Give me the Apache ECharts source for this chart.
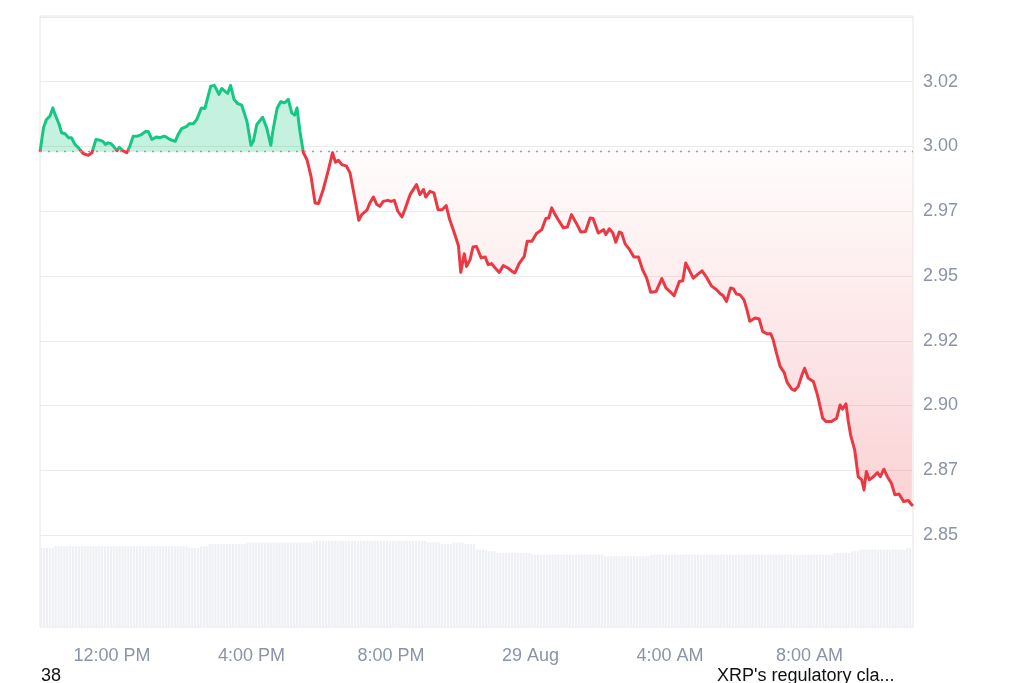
<!DOCTYPE html>
<html>
<head>
<meta charset="utf-8">
<title>XRP price 24h</title>
<script src="https://cdn.jsdelivr.net/npm/echarts@6/dist/echarts.min.js"></script>
<style>
  html, body { margin: 0; padding: 0; background: #fff; }
  #main { width: 1024px; height: 683px; }
</style>
</head>
<body>
<div id="main"></div>
<script>
  // window start (28 Aug, local time) and length in minutes
  const startTime = new Date(2025, 7, 28, 9, 58).getTime();
  const spanMinutes = 1498;
  // first price of the window, drawn as the dotted line
  const baseline = 2.998;

  // price: minutes after start / price in USD
  const priceMinutes = [
    0, 6, 11, 17, 22, 27, 33, 37, 43, 49, 54, 60, 66, 69, 74, 83, 89, 96, 103, 108,
    112, 117, 122, 126, 132, 136, 142, 149, 154, 160, 167, 174, 182, 186, 192, 200, 206, 213, 217, 223,
    232, 237, 243, 252, 256, 263, 269, 272, 277, 283, 287, 293, 299, 303, 307, 312, 317, 322, 327, 333,
    339, 346, 349, 355, 362, 366, 372, 382, 389, 396, 400, 407, 413, 420, 426, 432, 437, 441, 446, 452,
    458, 465, 472, 478, 486, 495, 502, 507, 512, 518, 526, 532, 540, 547, 552, 561, 566, 572, 578, 583,
    589, 597, 602, 608, 614, 621, 626, 635, 646, 652, 658, 662, 669, 676, 683, 690, 697, 703, 711, 718,
    722, 728, 732, 738, 743, 749, 757, 764, 769, 775, 781, 788, 795, 803, 810, 815, 822, 831, 836, 844,
    852, 861, 864, 868, 873, 878, 884, 889, 898, 905, 912, 920, 928, 936, 944, 949, 958, 967, 971, 977,
    983, 988, 994, 998, 1004, 1011, 1019, 1027, 1034, 1041, 1048, 1057, 1067, 1074, 1081, 1088, 1097, 1103, 1108, 1113,
    1121, 1128, 1136, 1143, 1152, 1161, 1167, 1172, 1178, 1185, 1190, 1195, 1201, 1208, 1213, 1218, 1227, 1234, 1240, 1247,
    1254, 1258, 1264, 1270, 1277, 1282, 1290, 1295, 1301, 1307, 1312, 1318, 1327, 1334, 1338, 1343, 1349, 1358, 1367, 1373,
    1377, 1383, 1387, 1391, 1398, 1404, 1410, 1414, 1418, 1423, 1430, 1437, 1442, 1448, 1454, 1461, 1467, 1474, 1482, 1490,
    1496, 1498
  ];
  const priceValues = [
    2.998, 3.0072, 3.0104, 3.0117, 3.0149, 3.0117, 3.0085, 3.0053, 3.0049, 3.0034, 3.0034, 3.0008, 2.9995, 2.9997, 2.9973, 2.9966, 2.9976, 3.0027, 3.0024, 3.0020,
    3.0008, 3.0014, 3.0011, 3.0001, 2.9984, 2.9997, 2.9984, 2.9976, 3.0001, 3.0040, 3.0040, 3.0046, 3.0059, 3.0057, 3.0027, 3.0037, 3.0034, 3.0040, 3.0036, 3.0027,
    3.0020, 3.0046, 3.0069, 3.0078, 3.0088, 3.0088, 3.0104, 3.0098, 3.0149, 3.0147, 3.0182, 3.0233, 3.0236, 3.0220, 3.0201, 3.0224, 3.0214, 3.0205, 3.0236, 3.0182,
    3.0166, 3.0160, 3.0156, 3.0098, 3.0005, 3.0020, 3.0085, 3.0113, 3.0072, 3.0005, 3.0066, 3.0149, 3.0173, 3.0169, 3.0182, 3.0130, 3.0121, 3.0149, 3.0059, 2.9976,
    2.9950, 2.9885, 2.9782, 2.9780, 2.9834, 2.9911, 2.9976, 2.9939, 2.9947, 2.9930, 2.9924, 2.9898, 2.9802, 2.9715, 2.9737, 2.9754, 2.9782, 2.9805, 2.9776, 2.9769,
    2.9788, 2.9792, 2.9788, 2.9792, 2.9750, 2.9728, 2.9756, 2.9814, 2.9853, 2.9814, 2.9834, 2.9805, 2.9827, 2.9821, 2.9756, 2.9756, 2.9772, 2.9718, 2.9666, 2.9617,
    2.9514, 2.9586, 2.9537, 2.9563, 2.9612, 2.9614, 2.9570, 2.9573, 2.9544, 2.9548, 2.9531, 2.9514, 2.9540, 2.9531, 2.9518, 2.9512, 2.9548, 2.9576, 2.9634, 2.9634,
    2.9664, 2.9679, 2.9686, 2.9722, 2.9724, 2.9763, 2.9737, 2.9718, 2.9686, 2.9689, 2.9737, 2.9705, 2.9670, 2.9672, 2.9724, 2.9722, 2.9666, 2.9679, 2.9660, 2.9682,
    2.9666, 2.9630, 2.9670, 2.9666, 2.9624, 2.9604, 2.9573, 2.9573, 2.9524, 2.9492, 2.9437, 2.9440, 2.9490, 2.9454, 2.9440, 2.9424, 2.9479, 2.9482, 2.9550, 2.9528,
    2.9492, 2.9505, 2.9520, 2.9498, 2.9462, 2.9447, 2.9432, 2.9425, 2.9402, 2.9454, 2.9450, 2.9430, 2.9428, 2.9408, 2.9370, 2.9325, 2.9338, 2.9334, 2.9286, 2.9277,
    2.9277, 2.9254, 2.9200, 2.9151, 2.9127, 2.9089, 2.9063, 2.9058, 2.9073, 2.9115, 2.9144, 2.9106, 2.9093, 2.9041, 2.9002, 2.8951, 2.8938, 2.8938, 2.8951, 2.9002,
    2.8986, 2.9006, 2.8938, 2.8886, 2.8828, 2.8725, 2.8713, 2.8674, 2.8745, 2.8713, 2.8725, 2.8741, 2.8725, 2.8754, 2.8725, 2.8700, 2.8655, 2.8658, 2.8629, 2.8633,
    2.8616, 2.8612
  ];

  // 24h volume (bn USD), one bar every 5 minutes, one row = 1 hour
  const volumeStep = 5;
  const volumeValues = [
    6.22, 6.22, 6.22, 6.22, 6.22, 6.34, 6.34, 6.34, 6.34, 6.34, 6.34, 6.34,
    6.34, 6.34, 6.34, 6.34, 6.34, 6.34, 6.34, 6.34, 6.34, 6.34, 6.34, 6.34,
    6.34, 6.34, 6.34, 6.34, 6.34, 6.34, 6.34, 6.34, 6.34, 6.34, 6.34, 6.34,
    6.34, 6.34, 6.34, 6.34, 6.34, 6.34, 6.34, 6.34, 6.34, 6.34, 6.34, 6.34,
    6.34, 6.34, 6.34, 6.22, 6.22, 6.22, 6.22, 6.34, 6.34, 6.34, 6.53, 6.53,
    6.53, 6.53, 6.53, 6.53, 6.53, 6.53, 6.53, 6.53, 6.53, 6.53, 6.53, 6.63,
    6.63, 6.63, 6.63, 6.63, 6.63, 6.63, 6.63, 6.63, 6.63, 6.63, 6.63, 6.63,
    6.63, 6.63, 6.63, 6.63, 6.63, 6.63, 6.63, 6.63, 6.63, 6.63, 6.77, 6.77,
    6.77, 6.77, 6.77, 6.77, 6.77, 6.77, 6.77, 6.77, 6.77, 6.77, 6.77, 6.77,
    6.77, 6.77, 6.77, 6.77, 6.77, 6.77, 6.77, 6.77, 6.77, 6.77, 6.77, 6.77,
    6.77, 6.77, 6.77, 6.77, 6.77, 6.77, 6.77, 6.77, 6.77, 6.77, 6.77, 6.77,
    6.77, 6.66, 6.66, 6.66, 6.66, 6.66, 6.53, 6.53, 6.53, 6.53, 6.63, 6.63,
    6.63, 6.63, 6.53, 6.53, 6.53, 6.53, 6.08, 6.08, 6.08, 6.08, 5.95, 5.95,
    5.95, 5.82, 5.82, 5.82, 5.82, 5.82, 5.82, 5.82, 5.82, 5.82, 5.82, 5.82,
    5.82, 5.69, 5.69, 5.69, 5.69, 5.69, 5.69, 5.69, 5.69, 5.69, 5.69, 5.69,
    5.69, 5.69, 5.69, 5.69, 5.69, 5.69, 5.69, 5.69, 5.69, 5.69, 5.69, 5.69,
    5.69, 5.69, 5.56, 5.56, 5.56, 5.56, 5.56, 5.56, 5.56, 5.56, 5.56, 5.56,
    5.56, 5.56, 5.56, 5.56, 5.56, 5.56, 5.69, 5.69, 5.69, 5.69, 5.69, 5.69,
    5.69, 5.69, 5.69, 5.69, 5.69, 5.69, 5.69, 5.69, 5.69, 5.69, 5.69, 5.69,
    5.69, 5.69, 5.69, 5.69, 5.69, 5.69, 5.69, 5.69, 5.69, 5.69, 5.69, 5.69,
    5.69, 5.69, 5.69, 5.69, 5.69, 5.69, 5.69, 5.69, 5.69, 5.69, 5.69, 5.69,
    5.69, 5.69, 5.69, 5.69, 5.69, 5.69, 5.69, 5.69, 5.69, 5.69, 5.69, 5.69,
    5.69, 5.69, 5.69, 5.69, 5.69, 5.69, 5.69, 5.69, 5.69, 5.82, 5.82, 5.82,
    5.82, 5.82, 5.82, 5.95, 5.95, 5.95, 6.08, 6.08, 6.08, 6.08, 6.08, 6.08,
    6.08, 6.08, 6.08, 6.08, 6.08, 6.08, 6.08, 6.08, 6.08, 6.08, 6.22, 6.22
  ];

  // price axis ticks and the text shown for them
  const yTicks = [2.85, 2.875, 2.9, 2.925, 2.95, 2.975, 3.0, 3.025, 3.05];
  const yTickLabels = ['2.85', '2.87', '2.90', '2.92', '2.95', '2.97', '3.00', '3.02', ''];
  const monthNames = ['Jan', 'Feb', 'Mar', 'Apr', 'May', 'Jun', 'Jul', 'Aug', 'Sep', 'Oct', 'Nov', 'Dec'];

  const MIN = 60 * 1000;
  const endTime = startTime + spanMinutes * MIN;
  const priceData = priceMinutes.map((m, i) => [startTime + m * MIN, priceValues[i]]);
  const volumeData = volumeValues.map((v, i) => [startTime + i * volumeStep * MIN, v]);

  // green above the opening price, red below
  const hi = Math.max(...priceValues);
  const lo = Math.min(...priceValues);
  const cut = (hi - baseline) / (hi - lo);
  const GREEN = '#16c784';
  const RED = '#ea3943';
  const lineColor = new echarts.graphic.LinearGradient(0, 0, 0, 1, [
    { offset: 0, color: GREEN }, { offset: cut, color: GREEN },
    { offset: cut, color: RED }, { offset: 1, color: RED }
  ]);
  const areaColor = new echarts.graphic.LinearGradient(0, 0, 0, 1, [
    { offset: 0, color: 'rgba(22,199,132,0.36)' }, { offset: cut, color: 'rgba(22,199,132,0.36)' },
    { offset: cut, color: 'rgba(234,57,67,0.02)' }, { offset: 1, color: 'rgba(234,57,67,0.32)' }
  ]);

  const FONT = '"Liberation Sans", Arial, sans-serif';
  const LABEL = '#8a94a6';

  function timeLabel(value) {
    const d = new Date(value);
    const h = d.getHours();
    if (h === 0 && d.getMinutes() === 0) {
      return d.getDate() + ' ' + monthNames[d.getMonth()];
    }
    const h12 = h % 12 === 0 ? 12 : h % 12;
    return h12 + ':' + String(d.getMinutes()).padStart(2, '0') + (h < 12 ? ' AM' : ' PM');
  }

  const chart = echarts.init(document.getElementById('main'));
  chart.setOption({
    animation: false,
    backgroundColor: '#fff',
    textStyle: { fontFamily: FONT },
    grid: [
      // price
      { left: 40, right: 111, top: 17, bottom: 148 },
      // frame + volume
      { left: 40, right: 111, top: 16, bottom: 56, show: true, borderColor: '#e6e6e6', borderWidth: 1 }
    ],
    xAxis: [
      { type: 'time', gridIndex: 0, min: startTime, max: endTime, show: false },
      {
        type: 'time', gridIndex: 1, min: startTime, max: endTime,
        minInterval: 4 * 60 * MIN, maxInterval: 4 * 60 * MIN,
        axisLine: { show: false },
        axisTick: { show: false },
        splitLine: { show: false },
        axisLabel: { color: LABEL, fontSize: 18, fontFamily: FONT, margin: 20, formatter: timeLabel }
      }
    ],
    yAxis: [
      {
        type: 'value', gridIndex: 0, position: 'right',
        min: yTicks[0], max: yTicks[yTicks.length - 1], interval: 0.025,
        axisLine: { show: false },
        axisTick: { show: false },
        splitLine: { lineStyle: { color: '#ebebeb', width: 1 } },
        axisLabel: {
          color: LABEL, fontSize: 18, fontFamily: FONT, margin: 10,
          formatter: v => yTickLabels[Math.round((v - yTicks[0]) / 0.025)]
        }
      },
      { type: 'value', gridIndex: 1, min: 0, max: 48, show: false }
    ],
    series: [
      {
        name: 'Volume',
        type: 'bar',
        xAxisIndex: 1,
        yAxisIndex: 1,
        barWidth: 2.2,
        itemStyle: { color: '#eef0f4' },
        silent: true,
        data: volumeData
      },
      {
        name: 'Price',
        type: 'line',
        xAxisIndex: 0,
        yAxisIndex: 0,
        symbol: 'none',
        lineStyle: { color: lineColor, width: 3, join: 'round' },
        areaStyle: { color: areaColor, origin: baseline },
        silent: true,
        markLine: {
          silent: true,
          precision: 4,
          symbol: ['none', 'none'],
          label: { show: false },
          lineStyle: { type: [2, 6], color: '#9e9e9e', width: 1.4 },
          data: [{ yAxis: baseline }]
        },
        data: priceData
      }
    ],
    graphic: [
      { type: 'text', left: 41, top: 667, style: { text: '38', font: '18px ' + FONT, fill: '#111' } },
      { type: 'text', left: 717, top: 667, style: { text: "XRP's regulatory cla...", font: '18px ' + FONT, fill: '#111' } }
    ]
  });
</script>
</body>
</html>
